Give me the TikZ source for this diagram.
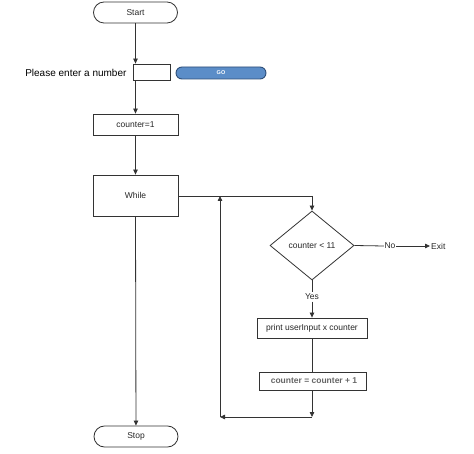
\documentclass[tikz,border=0pt]{standalone}
\usepackage{fontspec}
\setmainfont{Liberation Sans}
\usetikzlibrary{shapes.geometric,shapes.misc,arrows.meta}
\definecolor{lineg}{HTML}{333333}
\definecolor{gobtn}{HTML}{5B8DC8}
\definecolor{gobord}{HTML}{2E4E78}
\begin{document}
\begin{tikzpicture}[x=1pt,y=-1pt,
  every node/.style={font=\fontsize{8.5}{10}\selectfont, text=black!85},
  term/.style={draw=lineg, line width=0.8pt, rounded rectangle, minimum width=84pt, minimum height=21pt, inner sep=0pt},
  procbox/.style={draw=lineg, line width=0.8pt, rectangle, inner sep=0pt},
  decis/.style={draw=lineg, line width=0.8pt, diamond, minimum width=84pt, minimum height=69pt, inner sep=0pt},
  flow/.style={draw=lineg, line width=0.8pt, -{Triangle[length=5pt,width=4.5pt]}},
  plain/.style={draw=lineg, line width=0.8pt}
]
\useasboundingbox (0,0) rectangle (474,454);
\node[term] (start) at (135.5,12.5) {Start};
\node[procbox, minimum width=37pt, minimum height=16pt] (input) at (151.5,72) {};
\node[anchor=east, font=\fontsize{10}{12}\selectfont, text=black] (prompt) at (130,72.5) {Please enter a number};
\node[rounded rectangle, draw=gobord, line width=0.9pt, fill=gobtn, minimum width=90pt, minimum height=12pt, inner sep=0pt, text=white, font=\fontsize{5.5}{6}\selectfont\bfseries] (go) at (221,73) {GO};
\node[procbox, minimum width=85pt, minimum height=21pt] (init) at (135.5,124.5) {counter=1};
\node[procbox, minimum width=85pt, minimum height=41pt] (while) at (135.5,195.5) {While};
\node[decis] (cond) at (312,245.5) {counter < 11};
\node[inner sep=0.5pt] (no) at (390,246) {No};
\node[anchor=west, inner sep=1pt] (exit) at (430,246) {Exit};
\node[inner sep=1.5pt] (yes) at (312,297) {Yes};
\node[procbox, minimum width=110pt, minimum height=20pt] (print) at (312,328) {print userInput x counter};
\node[procbox, minimum width=107pt, minimum height=18pt, font=\fontsize{8.5}{10}\selectfont\bfseries, text=black!60] (incr) at (312.5,381) {\hspace{3pt}counter = counter + 1};
\node[term] (stop) at (136,436.5) {Stop};
\coordinate (wr) at (312,196);
\coordinate (lb) at (312,417);
\coordinate (ll) at (220,417);
\coordinate (lt) at (220,196);
\draw[flow] (start.south) -- (start.south |- input.north);
\draw[flow] (start.south |- input.south) -- (init.north);
\draw[flow] (init) -- (while);
\draw[flow] (while.south) -- (stop);
\draw[plain] (while.east |- wr) -- (wr);
\draw[flow] (wr) -- (cond.north);
\draw[plain] (cond.east) -- (no.west);
\draw[flow] (no.east) -- (exit.west);
\draw[plain] (cond.south) -- (yes.north);
\draw[flow] (yes.south) -- (print.north);
\draw[plain] (print.south) -- (incr.north -| print.south);
\draw[flow] (incr.south -| lb) -- (lb);
\draw[flow] (lb) -- (ll);
\draw[flow] (ll) -- (lt);
\end{tikzpicture}
\end{document}
